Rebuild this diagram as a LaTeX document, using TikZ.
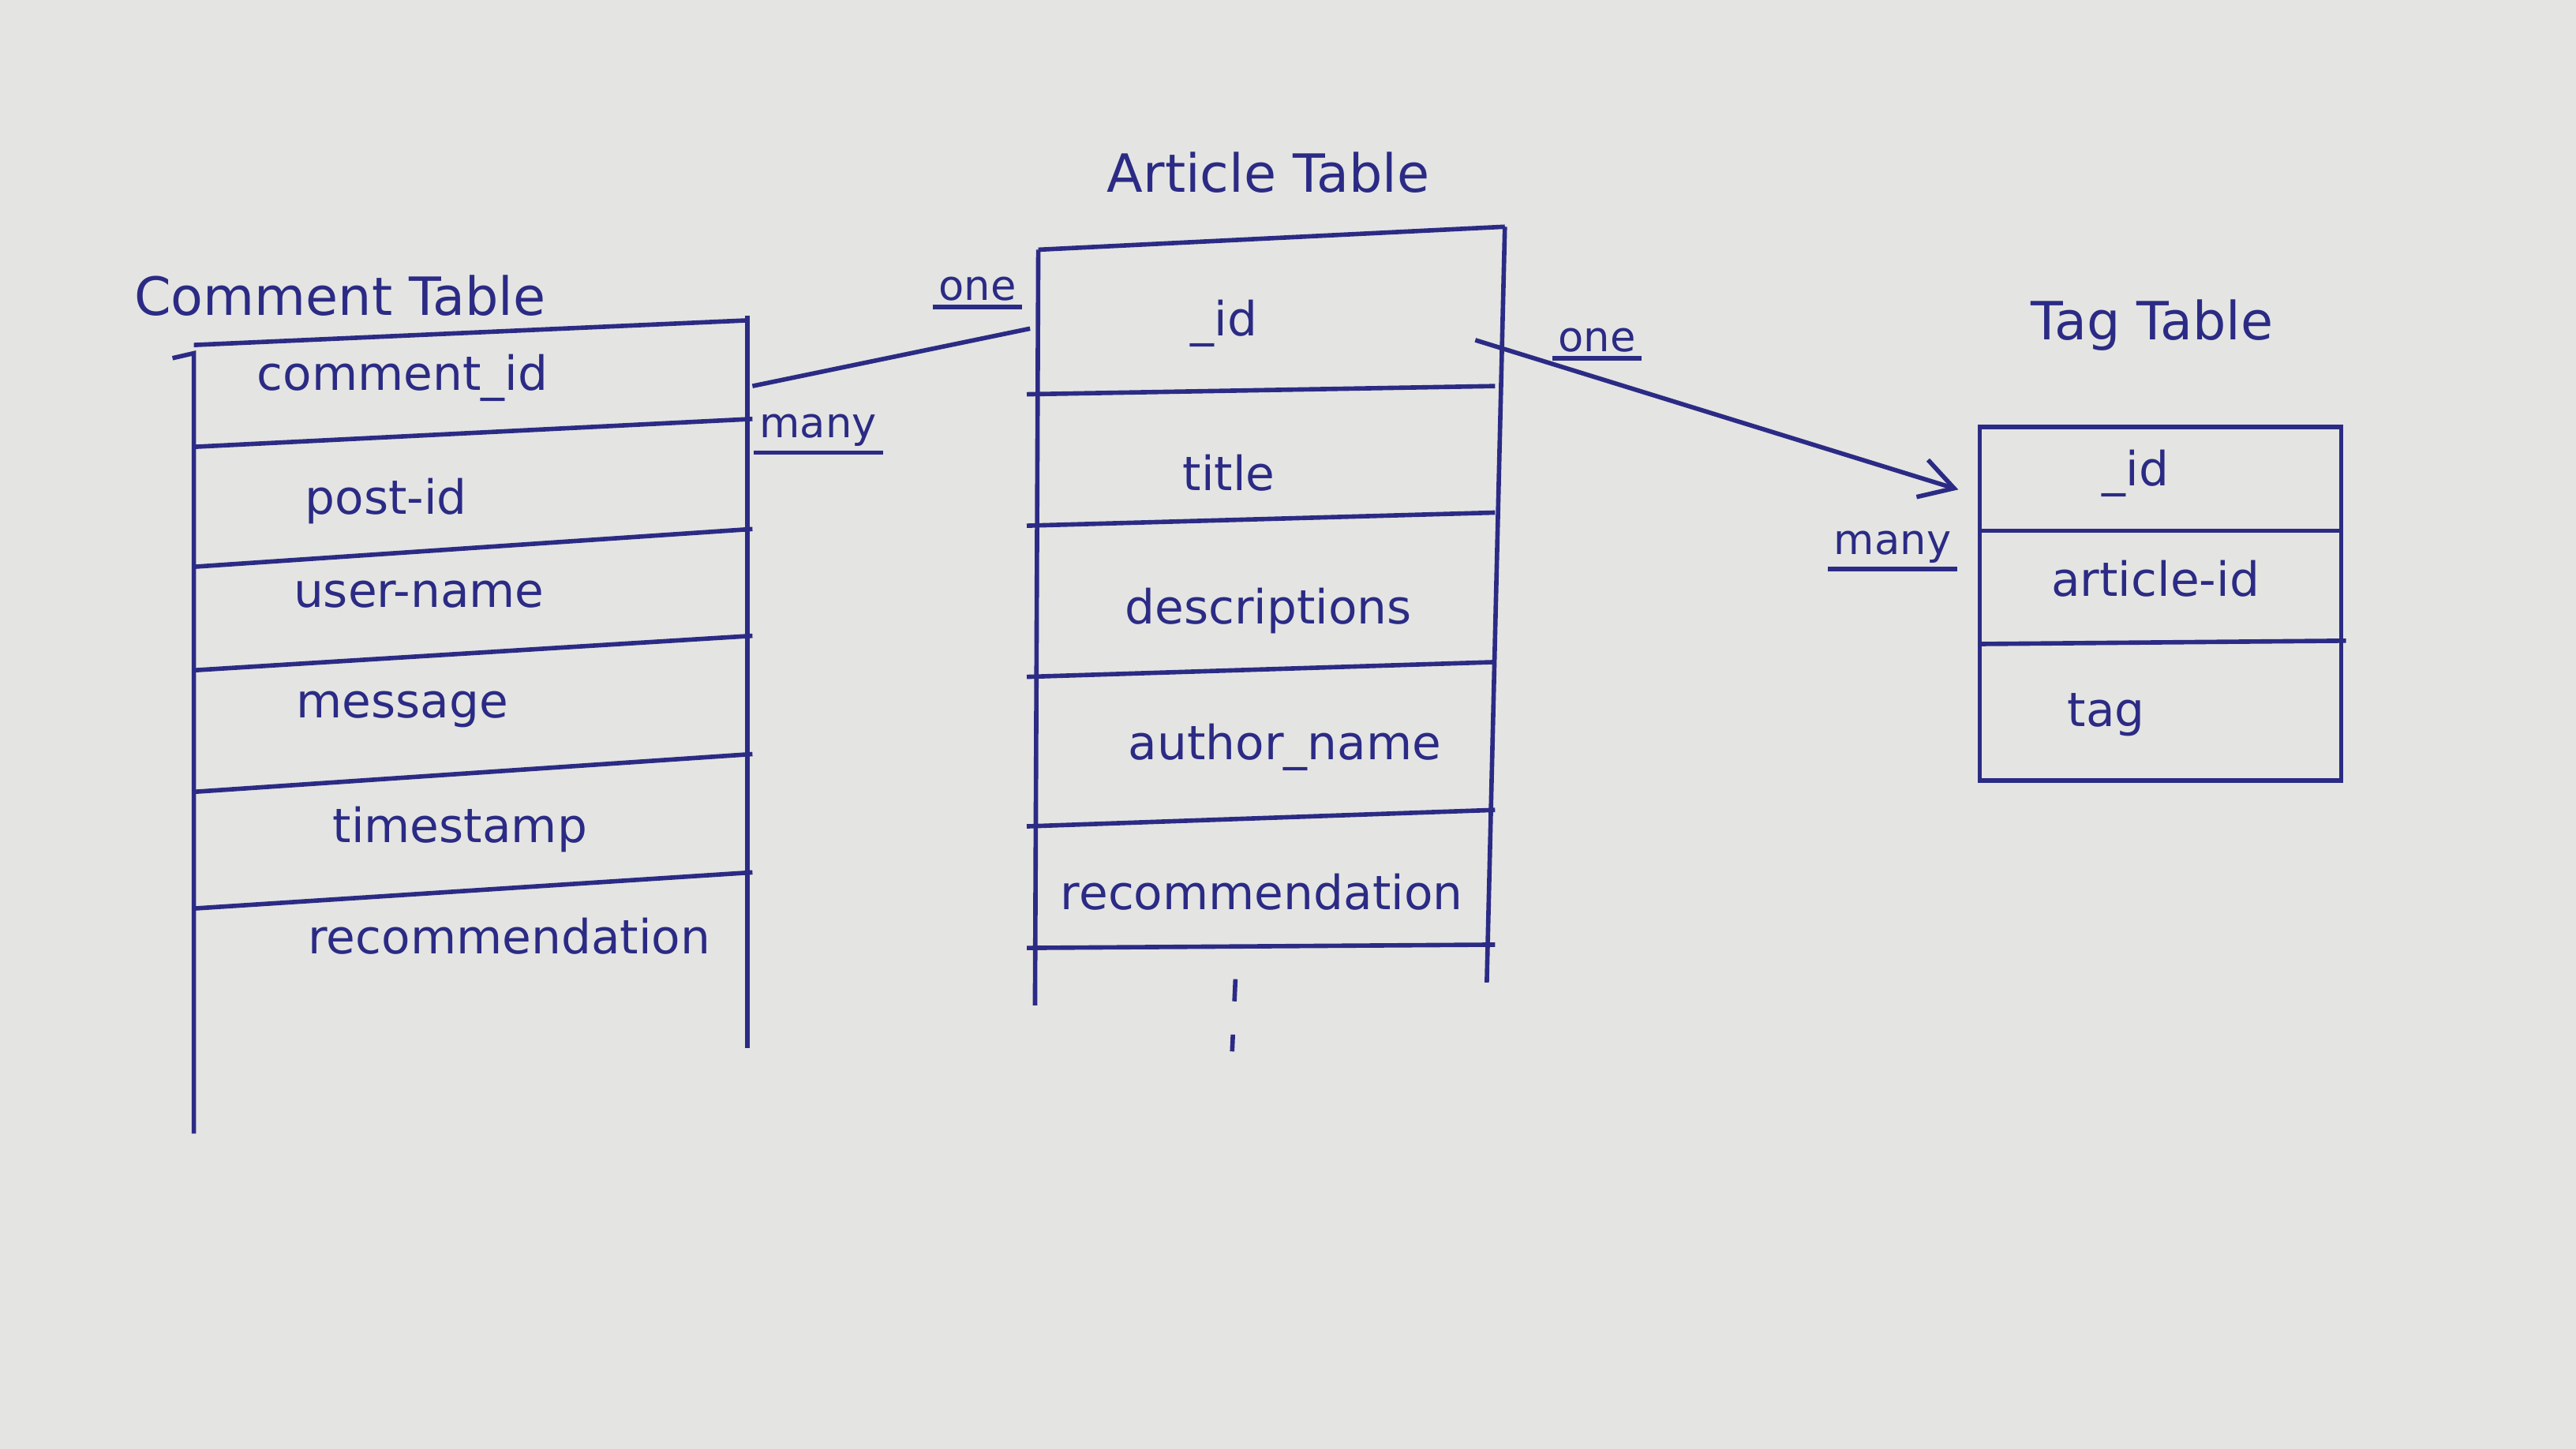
\documentclass[tikz,border=0pt]{standalone}
\usepackage{fontspec}
\setmainfont{DejaVu Sans}
\usetikzlibrary{arrows.meta}
\definecolor{paper}{HTML}{E4E4E2}
\definecolor{ink}{HTML}{2B2B85}
\begin{document}
\begin{tikzpicture}[x=0.02082cm,y=-0.02082cm,
  ln/.style={draw=ink,line width=1.6pt},
  lbl/.style={text=ink,font=\fontsize{17}{19}\selectfont},
  ttl/.style={text=ink,font=\fontsize{19}{21}\selectfont},
  ul/.style={text=ink,font=\fontsize{15}{17}\selectfont,inner sep=2pt}]
\fill[paper] (0,0) rectangle (1568,882);
\useasboundingbox (0,0) rectangle (1568,882);
% Comment table
\node[ttl] (ct) at (207,180) {Comment Table};
\draw[ln] (105,218) -- (118,215) -- (118,690);
\draw[ln] (455,192) -- (455,638);
\draw[ln] (118,210) -- (455,195);
\foreach \y/\z in {272/255,345/322,408/387,482/459,553/531}
  \draw[ln] (118,\y) -- (458,\z);
\node[lbl] (c1) at (245,230) {comment\_id};
\node[lbl] (c2) at (235,305) {post-id};
\node[lbl] (c3) at (255,362) {user-name};
\node[lbl] (c4) at (245,432) {message};
\node[lbl] (c5) at (280,505) {timestamp};
\node[lbl] (c6) at (310,570) {recommendation};
% Article table
\node[ttl] (at) at (772,105) {Article Table};
\draw[ln] (632,152) -- (916,138);
\draw[ln] (632,152) -- (630,612);
\draw[ln] (916,138) -- (905,598);
\foreach \y/\z in {240/235,320/312,412/403,503/493,577/575}
  \draw[ln] (625,\y) -- (910,\z);
\node[lbl] (a1) at (745,197) {\_id};
\node[lbl] (a2) at (748,288) {title};
\node[lbl] (a3) at (772,372) {descriptions};
\node[lbl] (a4) at (782,455) {author\_name};
\node[lbl] (a5) at (768,543) {recommendation};
\coordinate (d1) at (752,596);
\coordinate (d2) at (750,640);
\draw[ln,dash pattern=on 8pt off 12pt] (d1) -- (d2);
% Tag table
\node[ttl] (tt) at (1310,198) {Tag Table};
\draw[ln] (1205,260) rectangle (1425,475);
\draw[ln] (1205,323) -- (1425,323);
\draw[ln] (1205,392) -- (1428,390);
\node[lbl] (t1) at (1300,288) {\_id};
\node[lbl] (t2) at (1312,352) {article-id};
\node[lbl] (t3) at (1282,435) {tag};
% connectors
\coordinate (p1) at (458,235);
\coordinate (p2) at (627,200);
\draw[ln] (p1) -- (p2);
\node[ul] (o1) at (595,176) {one};
\draw[ln] (o1.south west) -- (o1.south east);
\node[ul] (m1) at (498,262) {many};
\draw[ln] (m1.south west) -- (m1.south east);
\coordinate (q1) at (898,207);
\coordinate (q2) at (1192,298);
\draw[ln,-{Straight Barb[length=12pt,width=14pt]}] (q1) -- (q2);
\node[ul] (o2) at (972,207) {one};
\draw[ln] (o2.south west) -- (o2.south east);
\node[ul] (m2) at (1152,333) {many};
\draw[ln] (m2.south west) -- (m2.south east);
\end{tikzpicture}
\end{document}
